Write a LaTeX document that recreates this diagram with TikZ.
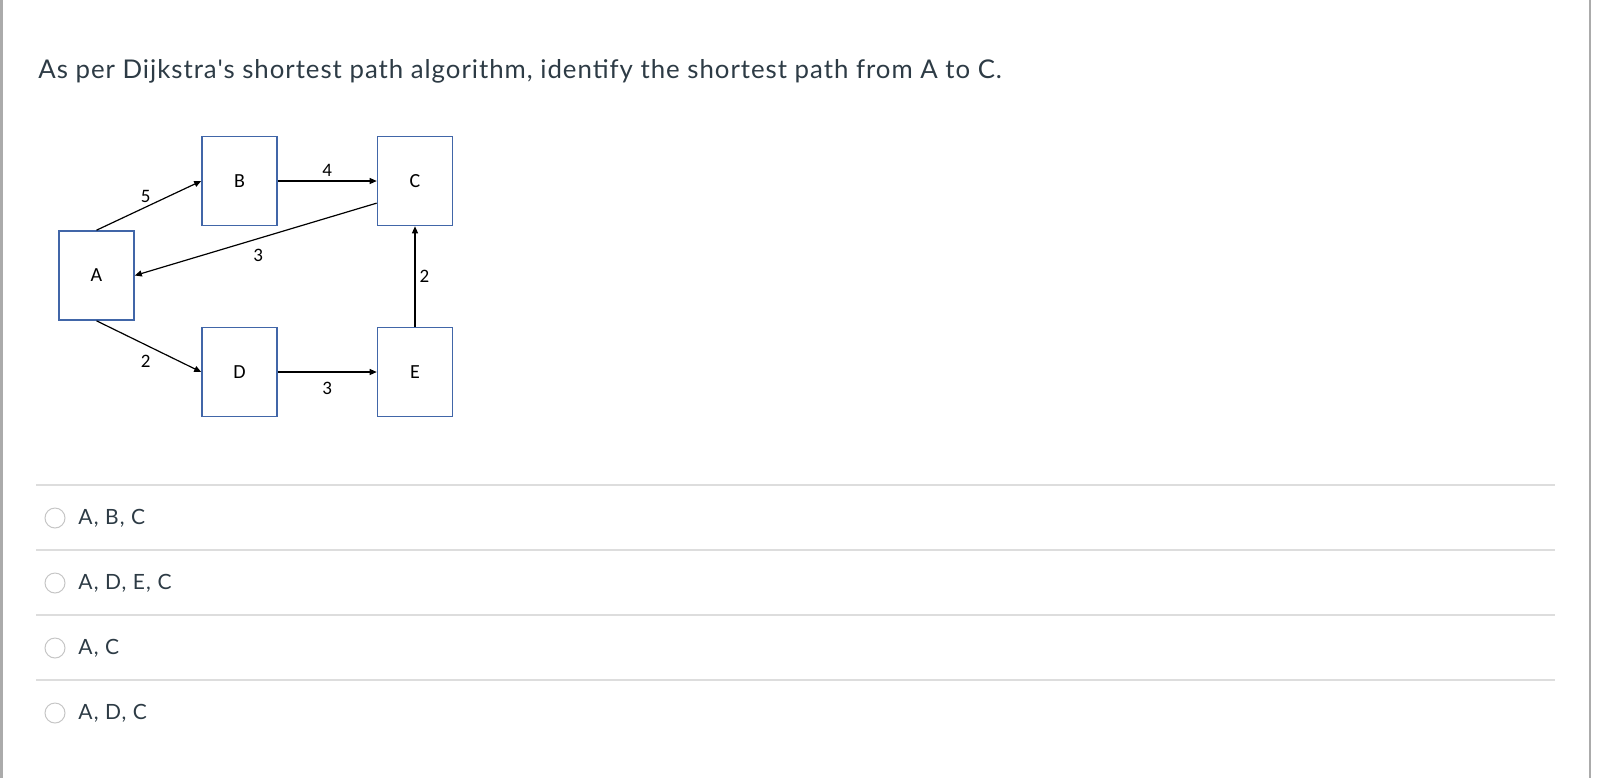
\documentclass[tikz,border=0pt]{standalone}
\usepackage{fontspec}
\setmainfont{Lato}[Ligatures=TeXOff]
\newfontfamily\questionfont{Lato}[Ligatures=TeXOff,LetterSpace=3.8]
\newfontfamily\answerfont{Lato}[LetterSpace=5.5]
\newfontfamily\graphfont{Carlito}
\usetikzlibrary{arrows.meta}
\definecolor{boxblue}{HTML}{4166A8}
\definecolor{canvastext}{HTML}{2D3B45}
\definecolor{rulegray}{HTML}{DDDDDD}
\definecolor{framegray}{HTML}{ABABAB}

\begin{document}
\begin{tikzpicture}[x=0.5pt,y=-0.5pt]
  \tikzset{vertex/.style = {draw=boxblue,line width=0.8pt,minimum width=37.5pt,minimum height=44.5pt,inner sep=0pt,font=\graphfont\fontsize{10}{12}\selectfont}}
  \tikzset{edge/.style = {-{Triangle[length=3.5pt,width=3pt]},line width=0.6pt}}
  \tikzset{weight/.style = {font=\graphfont\fontsize{9.5}{11}\selectfont,inner sep=2pt}}
  \tikzset{radio/.style = {circle,draw=gray!45,fill=white,minimum size=10pt,inner sep=0pt,line width=0.5pt}}
  \tikzset{answer/.style = {anchor=base west,inner sep=0pt,text=canvastext,font=\answerfont\fontsize{10.5}{12}\selectfont}}

\useasboundingbox (0,0) rectangle (1602,778);
\draw[framegray,line width=1.35pt] (1.35,0) -- (1.35,778);
\draw[framegray,line width=1pt] (1590,0) -- (1590,778);

\node[anchor=base west,inner sep=0pt,text=canvastext,font=\questionfont\fontsize{12.9}{15}\selectfont] (question) at (38,78.3) {As per Dijkstra's shortest path algorithm, identify the shortest path from A to C.};

\node[vertex] (A) at (96.5,275.5) {A};
\node[vertex] (B) at (239.5,181) {B};
\node[vertex] (C) at (415,181) {C};
\node[vertex] (D) at (239.5,372) {D};
\node[vertex] (E) at (415,372) {E};

    \path[edge](A.north) edge node[weight,above,pos=0.47]{5} (B.west);
    \path[edge](B.east) edge node[weight,above]{4} (C.west);
    \path[edge](C.210) edge node[weight,below,pos=0.49,yshift=-3pt]{3} (A.east);
    \path[edge](A.south) edge node[weight,below,pos=0.47,yshift=-3pt]{2} (D.west);
    \path[edge](D.east) edge node[weight,below,yshift=-3pt]{3} (E.west);
    \path[edge](E.north) edge node[weight,right]{2} (C.south);

% answers
\foreach \yy in {485,550,615,680}
  \draw[rulegray,line width=1pt] (36,\yy) -- (1555,\yy);
\foreach \n/\yy/\txt in {1/518/{A, B, C},2/583/{A, D, E, C},3/648/{A, C},4/713/{A, D, C}}{
  \node[radio] (radio\n) at (55,\yy) {};
  \node[answer] (answer\n) at (78,\yy+6.2) {\txt};
}

\end{tikzpicture}
\end{document}
